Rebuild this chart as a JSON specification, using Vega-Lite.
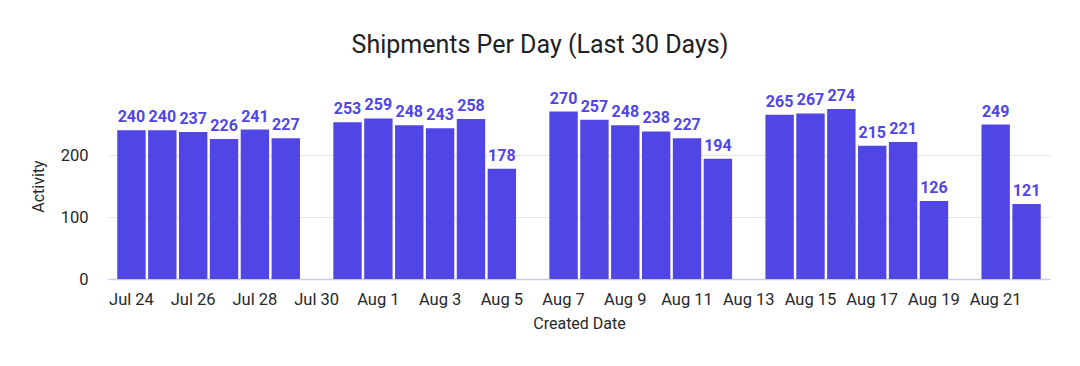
{
  "$schema": "https://vega.github.io/schema/vega-lite/v6.json",
  "autosize": {"type": "none"},
  "width": 942,
  "height": 186,
  "padding": {"left": 108, "top": 93, "right": 30, "bottom": 87},
  "background": "white",
  "config": {
    "font": "Roboto",
    "view": {"stroke": null},
    "axis": {"labelColor": "#26282b", "titleColor": "#26282b", "labelFont": "Roboto", "titleFont": "Roboto"}
  },
  "title": {
    "text": "Shipments Per Day (Last 30 Days)",
    "font": "Roboto",
    "fontSize": 25,
    "fontWeight": "normal",
    "color": "#202124",
    "anchor": "middle",
    "dx": -39,
    "offset": 30
  },
  "data": {
    "values": [
      {"date": "Jul 24", "activity": 240},
      {"date": "Jul 25", "activity": 240},
      {"date": "Jul 26", "activity": 237},
      {"date": "Jul 27", "activity": 226},
      {"date": "Jul 28", "activity": 241},
      {"date": "Jul 29", "activity": 227},
      {"date": "Jul 31", "activity": 253},
      {"date": "Aug 1", "activity": 259},
      {"date": "Aug 2", "activity": 248},
      {"date": "Aug 3", "activity": 243},
      {"date": "Aug 4", "activity": 258},
      {"date": "Aug 5", "activity": 178},
      {"date": "Aug 7", "activity": 270},
      {"date": "Aug 8", "activity": 257},
      {"date": "Aug 9", "activity": 248},
      {"date": "Aug 10", "activity": 238},
      {"date": "Aug 11", "activity": 227},
      {"date": "Aug 12", "activity": 194},
      {"date": "Aug 14", "activity": 265},
      {"date": "Aug 15", "activity": 267},
      {"date": "Aug 16", "activity": 274},
      {"date": "Aug 17", "activity": 215},
      {"date": "Aug 18", "activity": 221},
      {"date": "Aug 19", "activity": 126},
      {"date": "Aug 21", "activity": 249},
      {"date": "Aug 22", "activity": 121}
    ]
  },
  "encoding": {
    "x": {
      "field": "date",
      "type": "ordinal",
      "sort": null,
      "scale": {
        "domain": ["Jul 24","Jul 25","Jul 26","Jul 27","Jul 28","Jul 29","Jul 30","Jul 31","Aug 1","Aug 2","Aug 3","Aug 4","Aug 5","Aug 6","Aug 7","Aug 8","Aug 9","Aug 10","Aug 11","Aug 12","Aug 13","Aug 14","Aug 15","Aug 16","Aug 17","Aug 18","Aug 19","Aug 20","Aug 21","Aug 22"],
        "paddingInner": 0.08,
        "paddingOuter": 0.3
      },
      "axis": {
        "title": "Created Date",
        "values": ["Jul 24","Jul 26","Jul 28","Jul 30","Aug 1","Aug 3","Aug 5","Aug 7","Aug 9","Aug 11","Aug 13","Aug 15","Aug 17","Aug 19","Aug 21"],
        "labelAngle": 0,
        "labelFontSize": 16.5,
        "labelPadding": 12,
        "ticks": false,
        "tickSize": 0,
        "domainColor": "#c9cbe6",
        "domainWidth": 1.5,
        "titleFontSize": 16,
        "titleFontWeight": "normal",
        "titlePadding": 8,
        "grid": false
      }
    },
    "y": {
      "field": "activity",
      "type": "quantitative",
      "scale": {"domain": [0, 300], "nice": false},
      "axis": {
        "title": "Activity",
        "values": [0, 100, 200],
        "labelFontSize": 16.5,
        "labelPadding": 20,
        "ticks": false,
        "tickSize": 0,
        "domain": false,
        "gridColor": "#e6e6e6",
        "gridWidth": 1.2,
        "titleFontSize": 16,
        "titleFontWeight": "normal",
        "titlePadding": 14
      }
    }
  },
  "layer": [
    {"mark": {"type": "bar", "color": "#5046E6"}},
    {
      "mark": {"type": "text", "baseline": "alphabetic", "dy": -8, "fontSize": 16, "fontWeight": "bold", "color": "#5046E6", "font": "Roboto"},
      "encoding": {"text": {"field": "activity", "type": "quantitative"}}
    }
  ]
}
